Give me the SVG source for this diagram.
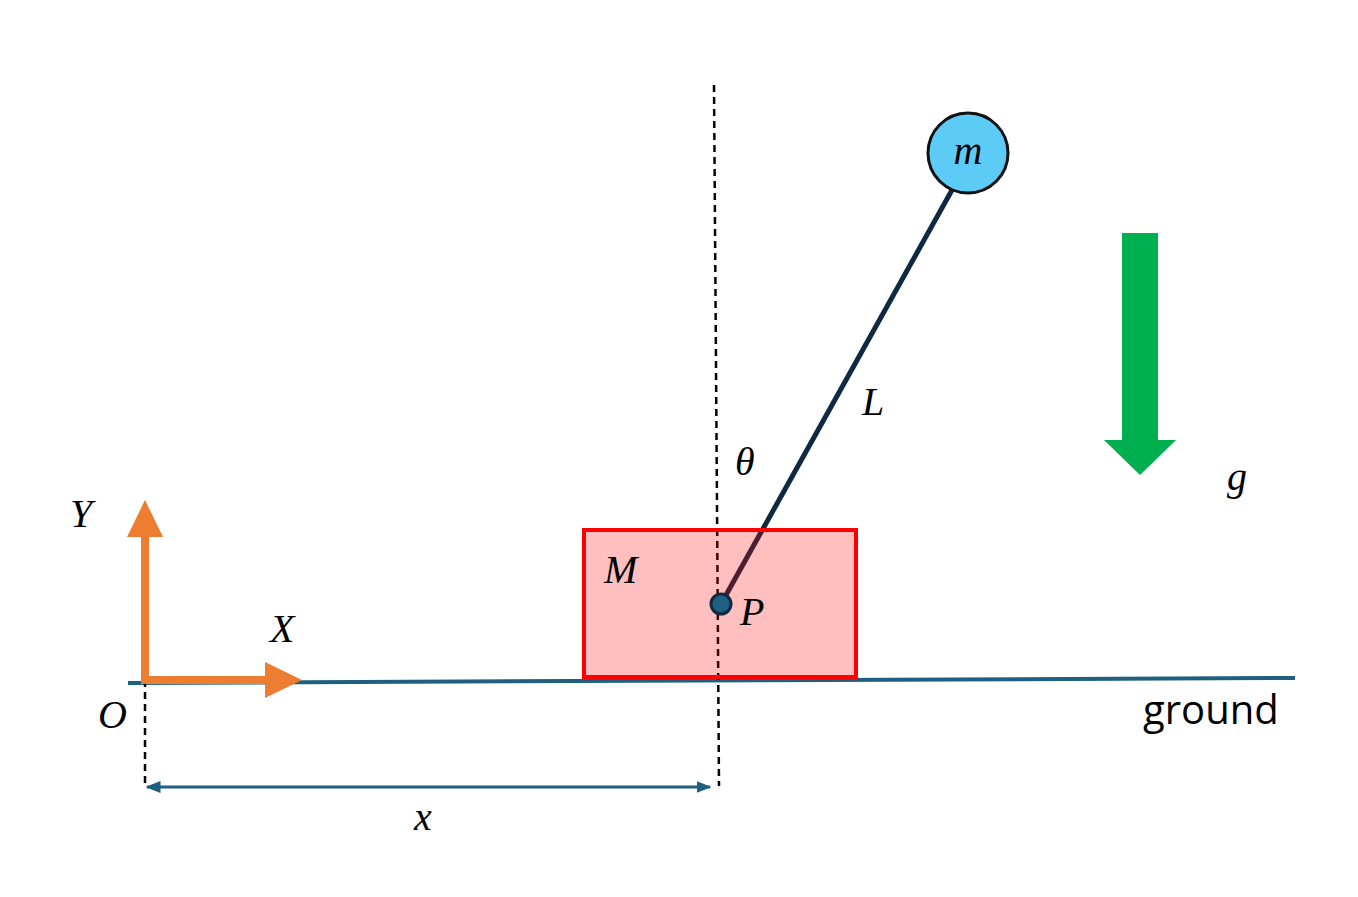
<svg xmlns="http://www.w3.org/2000/svg" width="1358" height="897" viewBox="0 0 1358 897">
<style>
.m{font-family:"Liberation Serif",serif;font-style:italic;font-size:40px;fill:#000}
.dash{stroke:#000;stroke-width:2.5;stroke-dasharray:7,5;fill:none}
</style>
<defs>
<marker id="ah" viewBox="0 0 10 10" refX="9" refY="5" markerWidth="5" markerHeight="5" orient="auto-start-reverse"><path d="M0,1 L10,5 L0,9 z" fill="#1f5f7f"/></marker>
</defs>
<rect width="1358" height="897" fill="#fff"/>
<g id="connectors">
<line x1="128" y1="683" x2="1295" y2="678" stroke="#1f5f7f" stroke-width="4"/>
<line class="dash" x1="714" y1="85" x2="719" y2="786"/>
<line class="dash" x1="145" y1="680" x2="145" y2="786"/>
<line x1="147" y1="787" x2="710" y2="787" stroke="#1f5f7f" stroke-width="3" marker-start="url(#ah)" marker-end="url(#ah)"/>
</g>
<g id="rod">
<line x1="721" y1="604" x2="952" y2="190" stroke="#0f2a40" stroke-width="5"/>
<text class="m" x="862" y="415">L</text>
<text class="m" x="735" y="475">θ</text>
</g>
<g id="axes">
<line x1="145" y1="680" x2="145" y2="534" stroke="#ed7d31" stroke-width="8"/>
<polygon points="127,537 163,537 145,500" fill="#ed7d31"/>
<line x1="141" y1="680" x2="268" y2="680" stroke="#ed7d31" stroke-width="8"/>
<polygon points="265,662 265,698 302,680" fill="#ed7d31"/>
<text class="m" x="70" y="527">Y</text>
<text class="m" x="270" y="642">X</text>
<text class="m" x="98" y="728">O</text>
<text class="m" x="414" y="830">x</text>
</g>
<g id="cart">
<rect x="584" y="530" width="272" height="147" fill="#ff0000" fill-opacity="0.25" stroke="#ff0000" stroke-width="4"/>
<text class="m" x="604" y="583">M</text>
</g>
<g id="pivot">
<circle cx="721" cy="604" r="10" fill="#1f5f7f" stroke="#0f2a40" stroke-width="3"/>
<text class="m" x="740" y="625" fill="#3a0000">P</text>
</g>
<g id="mass">
<circle cx="968" cy="153" r="40" fill="#5ccbf5" stroke="#111" stroke-width="3"/>
<text class="m" x="968" y="164" text-anchor="middle">m</text>
</g>
<g id="gravity">
<rect x="1122" y="233" width="36" height="208" fill="#00b050"/>
<polygon points="1104,440 1176,440 1140,475" fill="#00b050"/>
<text class="m" x="1227" y="490">g</text>
</g>
<text x="1143" y="724" font-family="'Open Sans','Liberation Sans',sans-serif" font-size="40" fill="#000">ground</text>
</svg>
